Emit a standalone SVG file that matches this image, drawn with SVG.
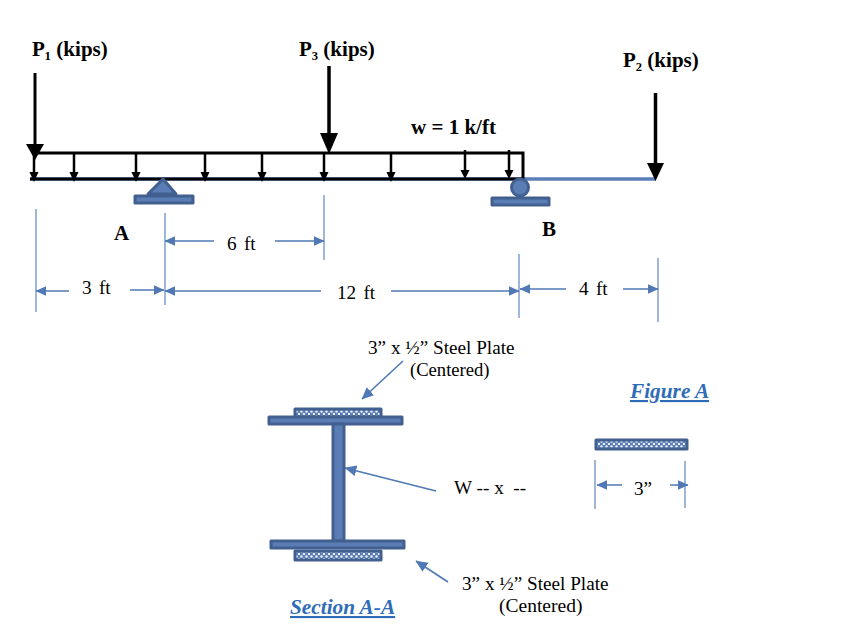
<svg xmlns="http://www.w3.org/2000/svg" width="846" height="642" viewBox="0 0 846 642">
<defs>
<pattern id="dots" width="5" height="5" patternUnits="userSpaceOnUse"><rect width="5" height="5" fill="#5a7db5"/><circle cx="1.5" cy="1.5" r="1.2" fill="#eef3fb"/><circle cx="4" cy="4" r="1.2" fill="#eef3fb"/></pattern>
<marker id="db" viewBox="0 0 10 10" refX="9.5" refY="5" markerWidth="11" markerHeight="11" orient="auto-start-reverse" markerUnits="userSpaceOnUse"><path d="M0 0.5L10 5L0 9.5z" fill="#4f78b5"/></marker>
<marker id="lb" viewBox="0 0 10 10" refX="9.5" refY="5" markerWidth="12" markerHeight="12" orient="auto" markerUnits="userSpaceOnUse"><path d="M0 0.5L10 5L0 9.5z" fill="#4f78b5"/></marker>
</defs>
<style>
text{font-family:"Liberation Serif","Times New Roman",serif;fill:#000}
.b{font-weight:bold;font-size:21px}
.d{font-size:19.2px}
.f{font-size:19.2px;word-spacing:2.5px}
.t{font-weight:bold;font-style:italic;font-size:21.300px;fill:#2f6cb8;text-decoration:underline}
.dl{stroke:#88a5d0;stroke-width:1.6;fill:none}
.dim{stroke:#4f78b5;stroke-width:1.5;fill:none}
.ldr{stroke:#4f78b5;stroke-width:1.6;fill:none}
.k{stroke:#000;fill:none}
.s{fill:#5a7db5;stroke:#42608f;stroke-width:3;stroke-linejoin:round}
.pl{fill:url(#dots);stroke:#42608f;stroke-width:3;stroke-linejoin:round}
</style>
<g id="connectors">
<path d="M30 179H656" stroke="#5a7fb8" stroke-width="3.500" fill="none"/>
<path class="k" stroke-width="3" d="M34 153H523V179H30"/>
<path class="k" stroke-width="3" d="M35 73V146"/>
<path d="M26 144H44L35 160z" fill="#000"/>
<path class="k" stroke-width="2.500" d="M34 153V174M74 153V174M136 153V174M205 153V174M262 153V174M324 153V174M391 153V174M465 150V172M509 150V172"/>
<path fill="#000" d="M29.500 172H38.500L34 182zM69.500 172H78.500L74 182zM131.500 172H140.500L136 182zM200.500 172H209.500L205 182zM257.500 172H266.500L262 182zM319.500 172H328.500L324 182zM386.500 172H395.500L391 182zM460.500 170H469.500L465 179zM504.500 170H513.500L509 179z"/>
<path class="k" stroke-width="3.500" d="M329 66V135"/>
<path d="M320 133H338L329 154z" fill="#000"/>
<path class="k" stroke-width="3.500" d="M655.500 93V165"/>
<path d="M647 163H664L655.500 181z" fill="#000"/>
<path class="dl" d="M36 209V312M165 213V305M324 195V260M519 254V318M658 258V322M595 460V509M685 461V508"/>
<path class="dim" marker-start="url(#db)" d="M36 291H69"/>
<path class="dim" marker-end="url(#db)" d="M130 290H164"/>
<path class="dim" marker-start="url(#db)" d="M165 241H214"/>
<path class="dim" marker-end="url(#db)" d="M275 241H324"/>
<path class="dim" marker-start="url(#db)" d="M165 291H321"/>
<path class="dim" marker-end="url(#db)" d="M391 291H519"/>
<path class="dim" marker-start="url(#db)" d="M520 289H566"/>
<path class="dim" marker-end="url(#db)" d="M623 289H658"/>
<path class="dim" marker-start="url(#db)" d="M597 485H622"/>
<path class="dim" marker-end="url(#db)" d="M670 485H688"/>
<path class="ldr" marker-end="url(#lb)" d="M403 361L362 399"/>
<path class="ldr" marker-end="url(#lb)" d="M436 491L345 468"/>
<path class="ldr" marker-end="url(#lb)" d="M448 582L416 561"/>
</g>
<g id="support-a"><path class="s" d="M163 179L176 194H148z"/><rect class="s" x="135" y="196" width="58" height="7"/></g>
<g id="support-b"><circle class="s" cx="520" cy="187.500" r="8.500"/><rect class="s" x="492" y="198" width="57" height="7"/></g>
<g id="i-beam">
<rect class="pl" x="295" y="409" width="86" height="8"/>
<rect class="s" x="269" y="417" width="133" height="7"/>
<rect class="s" x="333" y="424" width="11" height="117"/>
<rect class="s" x="271" y="541" width="133" height="7"/>
<rect class="pl" x="295" y="551" width="86" height="9"/>
</g>
<g id="plate"><rect class="pl" x="596" y="440" width="91" height="9"/></g>
<g id="labels">
<text class="b" x="32" y="56">P₁ (kips)</text>
<text class="b" x="299" y="56">P₃ (kips)</text>
<text class="b" x="623" y="67">P₂ (kips)</text>
<text class="b" x="411" y="134">w = 1 k/ft</text>
<text class="b" x="114" y="240">A</text>
<text class="b" x="542" y="236">B</text>
<text class="f" x="227" y="250">6 ft</text>
<text class="f" x="82" y="294">3 ft</text>
<text class="f" x="337" y="299">12 ft</text>
<text class="f" x="579" y="295">4 ft</text>
<text class="d" x="368" y="354">3” x ½” Steel Plate</text>
<text class="d" x="410" y="376" style="font-size:18.600px">(Centered)</text>
<text class="t" x="630" y="398">Figure A</text>
<text class="d" x="634" y="495">3”</text>
<text class="d" x="454" y="494" xml:space="preserve">W -- x  --</text>
<text class="d" x="462" y="590">3” x ½” Steel Plate</text>
<text class="d" x="499" y="612" style="font-size:19.500px">(Centered)</text>
<text class="t" x="290" y="614">Section A-A</text>
</g>
</svg>
